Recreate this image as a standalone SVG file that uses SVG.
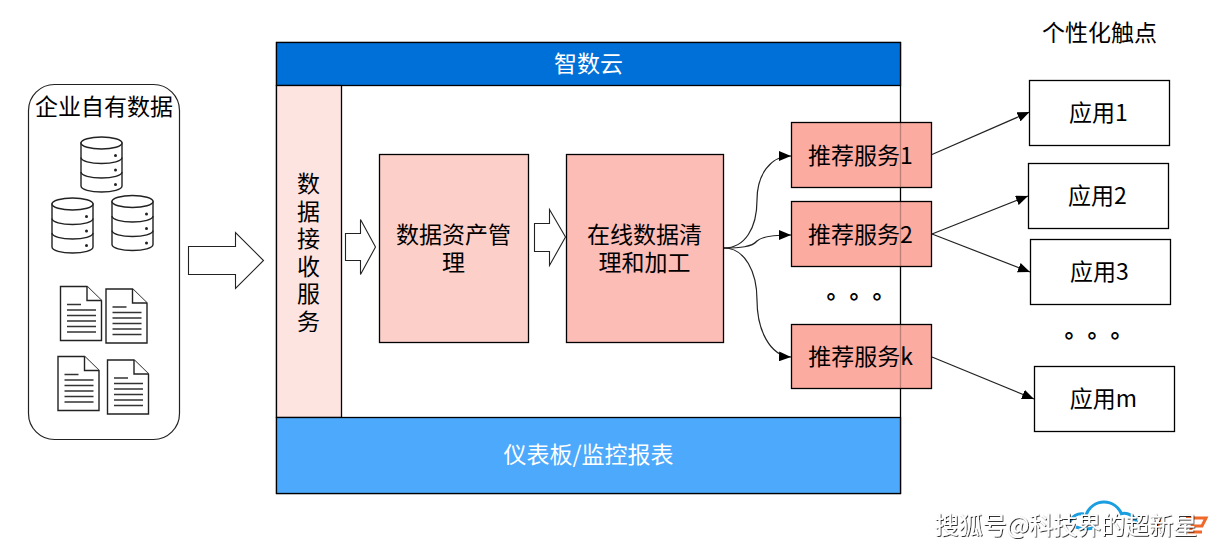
<svg xmlns="http://www.w3.org/2000/svg" width="1229" height="552" viewBox="0 0 1229 552">
<style>
text{font-family:"Noto Sans CJK SC","Noto Sans",sans-serif;font-size:23px;fill:#000;text-anchor:middle}
.box{stroke:#000;stroke-width:1.3}
.block{fill:#fff;stroke:#222;stroke-width:1.1}
.conn{fill:none;stroke:#222;stroke-width:1.2}
.ic{fill:#fff;stroke:#222;stroke-width:1.4}
.wm{fill:#fff;font-size:24px;filter:url(#sh)}
</style>
<defs>
<filter id="sh" x="-5%" y="-20%" width="110%" height="140%"><feDropShadow dx="0.8" dy="0.8" stdDeviation="0.5" flood-color="#000" flood-opacity="1"/></filter>
<marker id="ah" viewBox="0 0 12 10" refX="12" refY="5" markerWidth="12" markerHeight="10" markerUnits="userSpaceOnUse" orient="auto"><path d="M0 0L12 5L0 10Z" fill="#000"/></marker>
<symbol id="db" overflow="visible" viewBox="0 0 42 56" width="42" height="56">
<path class="ic" d="M.5 6.500V49.500C.5 53 10 55.500 21 55.500S41.500 53 41.500 49.500V6.500Z"/>
<ellipse class="ic" cx="21" cy="6.500" rx="20.500" ry="6"/>
<path class="ic" style="fill:none" d="M.5 21C.5 24.500 10 27 21 27S41.500 24.500 41.500 21M.5 35.500C.5 39 10 41.500 21 41.500S41.500 39 41.500 35.500"/>
<circle cx="35" cy="19" r="1.500" fill="#222"/><circle cx="35" cy="33.500" r="1.500" fill="#222"/><circle cx="35" cy="48" r="1.500" fill="#222"/>
</symbol>
<symbol id="doc" overflow="visible" viewBox="0 0 42 55" width="42" height="55">
<path class="ic" d="M.5.5H27L41.500 14.500V54.500H.5Z"/>
<path class="ic" d="M27 .5V14.500H41.500"/>
<path fill="none" stroke="#333" stroke-width="1.500" d="M7 18.500H21M7 24H36M7 29.500H36M7 35H36M7 40.500H36M7 46H36"/>
</symbol>
</defs>

<g id="source">
<rect x="28.500" y="84.500" width="151" height="355" rx="26" fill="#fff" stroke="#222" stroke-width="1.200"/>
<text x="104" y="115">企业自有数据</text>
<use href="#db" x="80.500" y="136.500"/>
<use href="#db" x="51.500" y="197.500"/>
<use href="#db" x="111.500" y="195"/>
<use href="#doc" x="60" y="286"/>
<use href="#doc" x="105.500" y="288.500"/>
<use href="#doc" x="57.500" y="356"/>
<use href="#doc" x="107" y="359.500"/>
</g>
<polygon id="arrow-in" class="block" points="188.500,246.500 235.500,246.500 235.500,232.500 263.500,260.500 235.500,288.500 235.500,274.500 188.500,274.500"/>

<g id="platform">
<rect x="276.500" y="42.500" width="624" height="451" fill="#fff" stroke="#000" stroke-width="1.300"/>
</g>
<g id="title-band"><rect class="box" x="276.500" y="42.500" width="624" height="43" fill="#0070d9"/><text x="588.500" y="72" style="fill:#fff">智数云</text></g>
<g id="intake"><rect class="box" x="276.500" y="85.500" width="65" height="332" fill="#fde4e1"/>
<text><tspan x="308.500" y="192">数</tspan><tspan x="308.500" y="219.500">据</tspan><tspan x="308.500" y="247">接</tspan><tspan x="308.500" y="274.500">收</tspan><tspan x="308.500" y="302">服</tspan><tspan x="308.500" y="329.500">务</tspan></text></g>
<g id="dashboard"><rect class="box" x="276.500" y="417.500" width="624" height="76" fill="#4da9fb"/><text x="588.500" y="463" style="fill:#fff">仪表板/监控报表</text></g>
<polygon id="arrow-a" class="block" points="345.500,233.500 360.500,233.500 360.500,219.500 375.500,247 360.500,274.500 360.500,260.500 345.500,260.500"/>
<g id="asset"><rect class="box" x="379.500" y="154.500" width="149" height="188" fill="#fccfc8"/><text><tspan x="453.500" y="243">数据资产管</tspan><tspan x="453.500" y="270.500">理</tspan></text></g>
<polygon id="arrow-b" class="block" points="534.500,223.500 549.500,223.500 549.500,209.500 565.500,237 549.500,265.500 549.500,251.500 534.500,251.500"/>
<g id="clean"><rect class="box" x="566.500" y="154.500" width="157" height="188" fill="#fbbdb6"/><text><tspan x="644.500" y="243">在线数据清</tspan><tspan x="644.500" y="271">理和加工</tspan></text></g>

<g id="connectors">
<path class="conn" marker-end="url(#ah)" d="M724 248C745 248 757 228 757 200C757 175 770 156 791 156"/>
<path class="conn" marker-end="url(#ah)" d="M724 248C740 248 752 247 757 241C762 236 775 235 791 235"/>
<path class="conn" marker-end="url(#ah)" d="M724 248C745 248 757 272 757 300C757 330 770 356 791 357"/>
<path class="conn" marker-end="url(#ah)" d="M932 154.500L1029.500 112"/>
<path class="conn" marker-end="url(#ah)" d="M932 234L1028 196"/>
<path class="conn" marker-end="url(#ah)" d="M932 234L1030 272"/>
<path class="conn" marker-end="url(#ah)" d="M932 357L1034 399"/>
</g>

<g id="svc1"><rect class="box" x="791.500" y="122.500" width="140" height="65" fill="#fbaba0"/><text x="860.500" y="164">推荐服务1</text></g>
<g id="svc2"><rect class="box" x="791.500" y="201.500" width="140" height="65" fill="#fbaba0"/><text x="860.500" y="243">推荐服务2</text></g>
<g id="svck"><rect class="box" x="791.500" y="324.500" width="140" height="64" fill="#fbaba0"/><text x="860.500" y="365">推荐服务k</text></g>
<path d="M900.500 122V188M900.500 201V267M900.500 324V389" stroke="#000" stroke-opacity=".25" stroke-width="1.300" fill="none"/>
<text id="dots1" x="838 861 884" y="298" style="font-weight:700">。。。</text>

<text x="1099.500" y="41" id="touch-title">个性化触点</text>
<g id="app1"><rect class="box" x="1029.500" y="80.500" width="140" height="65" fill="#fff"/><text x="1098.500" y="121">应用1</text></g>
<g id="app2"><rect class="box" x="1028.500" y="163.500" width="140" height="65" fill="#fff"/><text x="1097.500" y="204">应用2</text></g>
<g id="app3"><rect class="box" x="1030.500" y="239.500" width="140" height="65" fill="#fff"/><text x="1099.500" y="280">应用3</text></g>
<g id="appm"><rect class="box" x="1034.500" y="366.500" width="140" height="65" fill="#fff"/><text x="1103.500" y="407">应用m</text></g>
<text id="dots2" x="1076 1099 1122" y="337" style="font-weight:700">。。。</text>

<g id="watermark">
<path d="M1070 522a12 12 0 0 1 14 -8M1086 515a19 19 0 0 1 36 0M1120 514a13 13 0 0 1 17 10M1076 527q10 4 20 0" fill="none" stroke="#1a9ee0" stroke-width="3"/>
<path d="M1160 519l-4 12M1186 518h20l-4 8h-10l-2 6h12" fill="none" stroke="#f0682a" stroke-width="3"/>
<text class="wm" x="1066" y="534">搜狐号@科技界的超新星</text>
</g>
</svg>
